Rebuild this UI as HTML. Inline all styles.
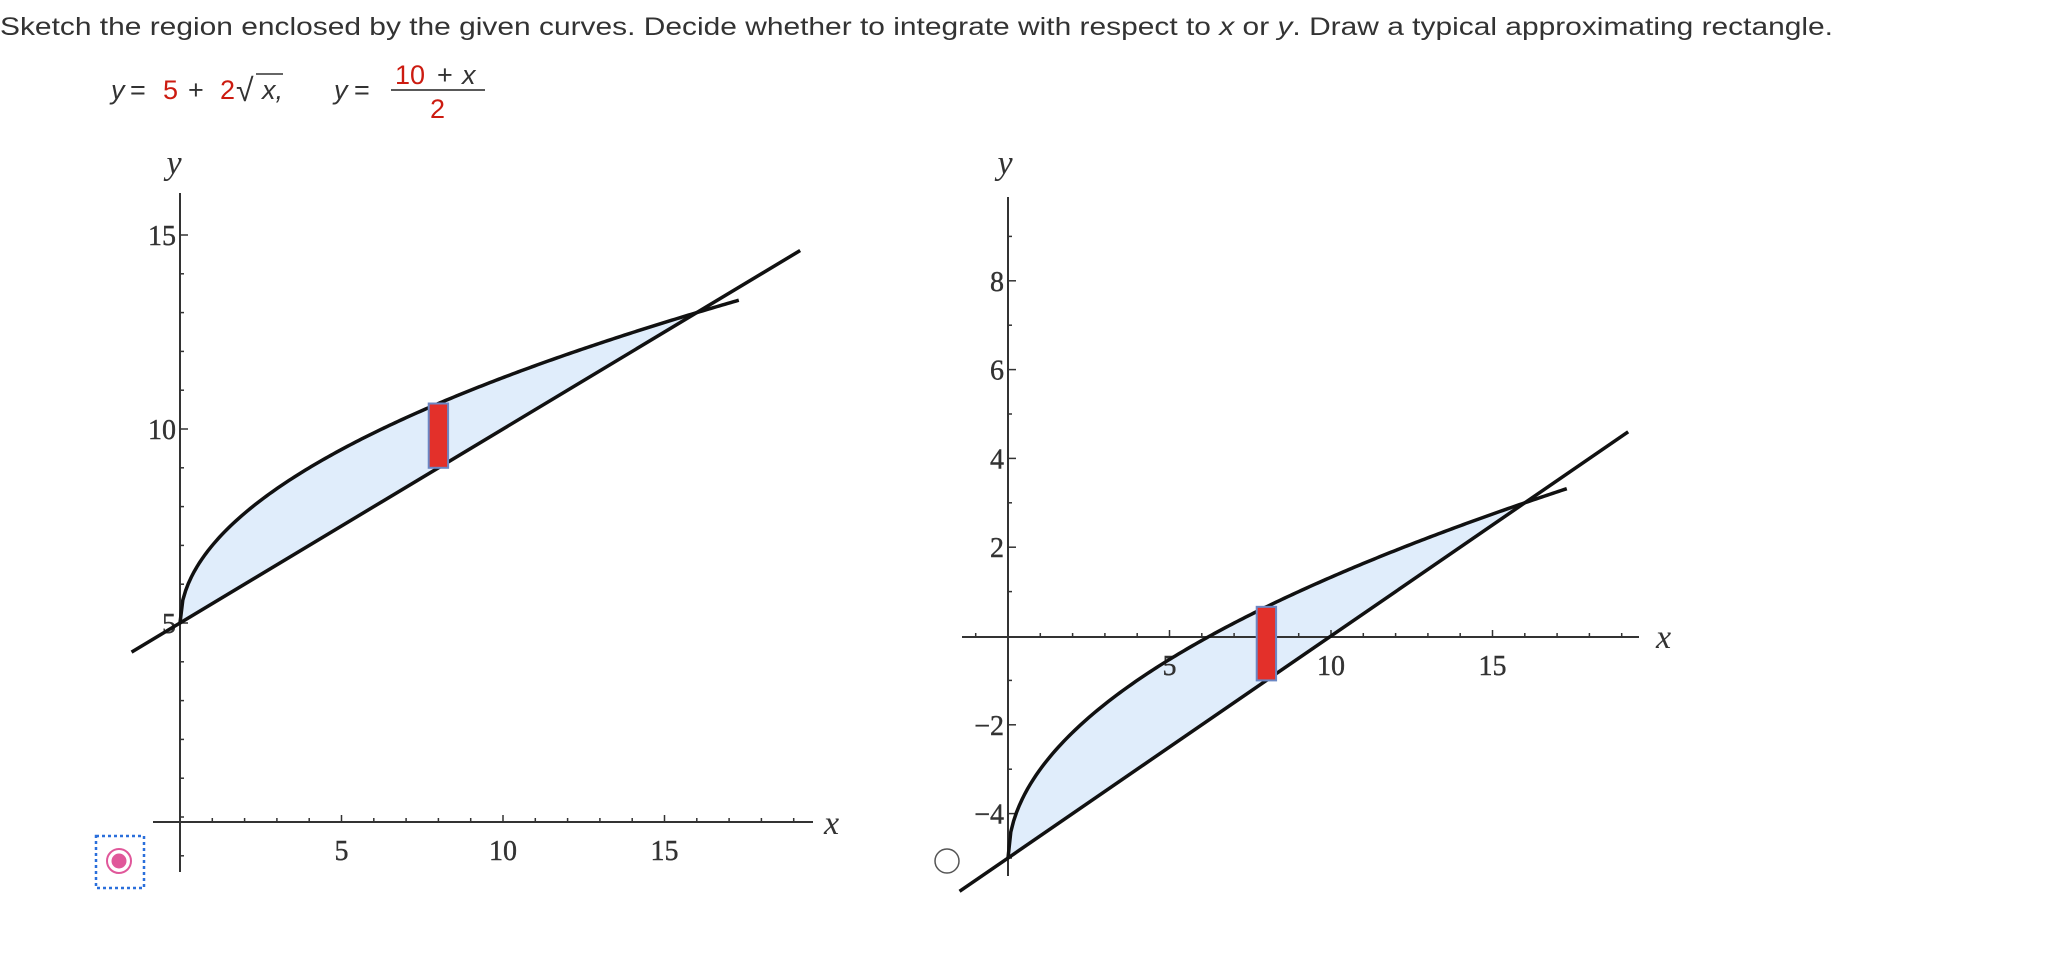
<!DOCTYPE html>
<html><head><meta charset="utf-8"><style>
html,body{margin:0;padding:0;background:#fff;}
svg{display:block;}
.t{font-family:"Liberation Sans",sans-serif;fill:#333;}
.s{font-family:"Liberation Serif",serif;fill:#333;stroke:#333;stroke-width:0.4;}
.i{font-family:"Liberation Serif",serif;font-style:italic;fill:#333;}
</style></head><body>
<svg id="root" width="2056" height="968" viewBox="0 0 2056 968" xmlns="http://www.w3.org/2000/svg">
<text class="t" x="0" y="35" font-size="25" textLength="1833" lengthAdjust="spacingAndGlyphs">Sketch the region enclosed by the given curves. Decide whether to integrate with respect to <tspan font-style="italic">x</tspan> or <tspan font-style="italic">y</tspan>. Draw a typical approximating rectangle.</text>
<g font-size="27" class="t">
<text x="111" y="99" font-style="italic">y</text>
<text x="130" y="99">=</text>
<text x="163" y="99" fill="#cc1b10">5</text>
<text x="188" y="99">+</text>
<text x="220" y="99" fill="#cc1b10">2</text>
<text x="236" y="101" font-size="32">√</text>
<line x1="256" y1="74" x2="283" y2="74" stroke="#333" stroke-width="1.5"/>
<text x="262" y="99" font-style="italic">x,</text>
<text x="334" y="99" font-style="italic">y</text>
<text x="354" y="99">=</text>
<text x="395" y="84" fill="#cc1b10">10</text>
<text x="437" y="84">+</text>
<text x="462" y="84" font-style="italic">x</text>
<line x1="391" y1="90" x2="485" y2="90" stroke="#222" stroke-width="1.5"/>
<text x="430" y="118" fill="#cc1b10">2</text>
</g>
<g id="c1"></g>
<g id="c2"></g>
<rect x="96" y="836" width="48" height="52" fill="none" stroke="#2a6fdb" stroke-width="2.5" stroke-dasharray="3,3"/>
<circle cx="119" cy="861" r="12" fill="#fff" stroke="#e0579a" stroke-width="2"/>
<circle cx="119" cy="861" r="7.5" fill="#e0579a"/>
<circle cx="947" cy="861" r="12" fill="#fff" stroke="#555" stroke-width="1.5"/>
</svg>
<script>
// curve: y = a + b*sqrt(x); line: y = c + d*x
const curveCoefLeft = [5, 2];
const lineCoefLeft = [5, 0.5];
const curveCoefRight = [-5, 2];
const lineCoefRight = [-5, 0.5];
const curveDomain = [0, 17.3];
const lineDomain = [-1.5, 19.2];
const regionDomain = [0, 16];
const rectX = [7.7, 8.3];
const xTicksLabels = [5, 10, 15];
const yTicksLeft = [5, 10, 15];
const yTicksRight = [-4, -2, 2, 4, 6, 8];
const NS = 'http://www.w3.org/2000/svg';
function mk(p, tag, attrs){const e=document.createElementNS(NS,tag);for(const k in attrs)e.setAttribute(k,attrs[k]);p.appendChild(e);return e;}
function draw(g, cfg){
  const X=v=>cfg.x0+v*cfg.sx, Y=v=>cfg.y0-v*cfg.sy;
  const cf=x=>cfg.curve[0]+cfg.curve[1]*Math.sqrt(x), lf=x=>cfg.line[0]+cfg.line[1]*x;
  let d='';const N=200;
  for(let i=0;i<=N;i++){const x=regionDomain[0]+(regionDomain[1]-regionDomain[0])*i/N;d+=(i?'L':'M')+X(x)+','+Y(cf(x));}
  d+='L'+X(regionDomain[0])+','+Y(lf(regionDomain[0]))+'Z';
  const reg=mk(g,'path',{d:d,fill:'#e0edfb',stroke:'none'});
  
  
  const ax=mk(g,'line',{x1:cfg.axX[0],y1:cfg.axisY,x2:cfg.axX[1],y2:cfg.axisY,stroke:'#333','stroke-width':2});
  
  
  const ay=mk(g,'line',{x1:cfg.x0,y1:cfg.axY[0],x2:cfg.x0,y2:cfg.axY[1],stroke:'#333','stroke-width':2});
  
  
  for(let v=-1;v<=19;v++){if(v===0)continue;const px=X(v);if(px<cfg.axX[0]||px>cfg.axX[1])continue;const big=v%5===0;
    const t=mk(g,'line',{x1:px,y1:cfg.axisY-(big?7:4),x2:px,y2:cfg.axisY,stroke:'#333','stroke-width':1.5});
    
    }
  for(let v=-10;v<=20;v++){const py=Y(v);if(py<cfg.axY[0]+5||py>cfg.axY[1]-3||Math.abs(py-cfg.axisY)<3)continue;const big=cfg.yt.includes(v);
    const t=mk(g,'line',{x1:cfg.x0,y1:py,x2:cfg.x0+(big?8:4),y2:py,stroke:'#333','stroke-width':1.5});
    
    }
  xTicksLabels.forEach(v=>{const t=mk(g,'text',{x:X(v),y:cfg.axisY+cfg.xlOff,'text-anchor':'middle','font-size':28,class:'s'});t.textContent=v;
    
    });
  cfg.yt.forEach(v=>{const t=mk(g,'text',{x:cfg.x0-4,y:Y(v)+10,'text-anchor':'end','font-size':28,class:'s'});t.textContent=(v<0?'\u2212'+(-v):v);
    
    });
  const xl=mk(g,'text',{x:cfg.xLab[0],y:cfg.xLab[1],'font-size':34,class:'i'});xl.textContent='x';
  
  
  const yl=mk(g,'text',{x:cfg.yLab[0],y:cfg.yLab[1],'font-size':34,class:'i','text-anchor':'middle'});yl.textContent='y';
  
  
  d='';for(let i=0;i<=N;i++){const x=curveDomain[0]+(curveDomain[1]-curveDomain[0])*i/N;d+=(i?'L':'M')+X(x)+','+Y(cf(x));}
  const c=mk(g,'path',{d:d,fill:'none',stroke:'#111','stroke-width':3.5});
  
  
  const l=mk(g,'line',{x1:X(lineDomain[0]),y1:Y(lf(lineDomain[0])),x2:X(lineDomain[1]),y2:Y(lf(lineDomain[1])),stroke:'#111','stroke-width':3.5});
  
  
  const xm=(rectX[0]+rectX[1])/2, top=cf(xm), bot=lf(xm);
  const r=mk(g,'rect',{x:X(rectX[0]),y:Y(top),width:X(rectX[1])-X(rectX[0]),height:Y(bot)-Y(top),fill:'#e3302a',stroke:'#6b87c4','stroke-width':2});
  
  
}
draw(document.getElementById('c1'),{x0:180,sx:32.3,y0:817,sy:38.8,axisY:822,axX:[153,813],axY:[193,872],curve:curveCoefLeft,line:lineCoefLeft,yt:yTicksLeft,xlOff:38,xLab:[824,834],yLab:[174,174]});
draw(document.getElementById('c2'),{x0:1008,sx:32.3,y0:636,sy:44.4,axisY:637,axX:[962,1639],axY:[197,876],curve:curveCoefRight,line:lineCoefRight,yt:yTicksRight,xlOff:38,xLab:[1656,648],yLab:[1005,174]});
</script>
</body></html>
